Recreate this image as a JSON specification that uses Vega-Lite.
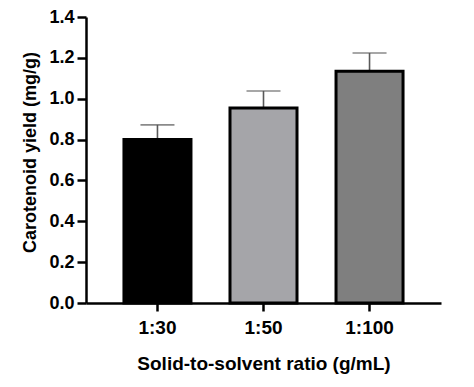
{
  "$schema": "https://vega.github.io/schema/vega-lite/v6.json",
  "autosize": "none",
  "width": 355,
  "height": 286,
  "padding": {"left": 86, "top": 17, "right": 33, "bottom": 84},
  "background": "white",
  "config": {
    "view": {"stroke": null},
    "font": "Liberation Sans",
    "axis": {
      "domainColor": "black", "domainWidth": 2.5, "tickColor": "black", "tickWidth": 2.5,
      "labelFont": "Liberation Sans", "labelFontWeight": "bold", "labelFontSize": 18, "labelColor": "black",
      "titleFont": "Liberation Sans", "titleFontWeight": "bold", "titleFontSize": 18, "titleColor": "black",
      "grid": false
    }
  },
  "data": {"values": [
    {"ratio": "1:30", "yield": 0.80, "upper": 0.872},
    {"ratio": "1:50", "yield": 0.955, "upper": 1.038},
    {"ratio": "1:100", "yield": 1.135, "upper": 1.224}
  ]},
  "encoding": {
    "x": {"field": "ratio", "type": "nominal", "sort": ["1:30", "1:50", "1:100"],
      "scale": {"paddingInner": 0.368, "paddingOuter": 0.358},
      "axis": {"title": "Solid-to-solvent ratio (g/mL)", "labelAngle": 0, "tickSize": 8, "labelPadding": 7, "titlePadding": 17, "labelFontSize": 19, "titleFontSize": 19}}
  },
  "layer": [
    {
      "mark": {"type": "rule", "color": "#595959", "strokeWidth": 1.6},
      "encoding": {"y": {"field": "yield", "type": "quantitative"}, "y2": {"field": "upper"}}
    },
    {
      "mark": {"type": "tick", "color": "#595959", "thickness": 1.6, "size": 34},
      "encoding": {"y": {"field": "upper", "type": "quantitative"}}
    },
    {
      "mark": {"type": "bar", "stroke": "black", "strokeWidth": 3},
      "encoding": {
        "y": {"field": "yield", "type": "quantitative",
          "scale": {"domain": [0, 1.4], "nice": false},
          "axis": {"title": "Carotenoid yield (mg/g)", "values": [0, 0.2, 0.4, 0.6, 0.8, 1.0, 1.2, 1.4], "format": ".1f", "tickSize": 9, "labelPadding": 3, "titlePadding": 9, "titleY": 135}},
        "fill": {"field": "ratio", "type": "nominal", "sort": ["1:30", "1:50", "1:100"],
          "scale": {"domain": ["1:30", "1:50", "1:100"], "range": ["#000000", "#a5a5a9", "#7f7f7f"]}, "legend": null}
      }
    }
  ]
}
